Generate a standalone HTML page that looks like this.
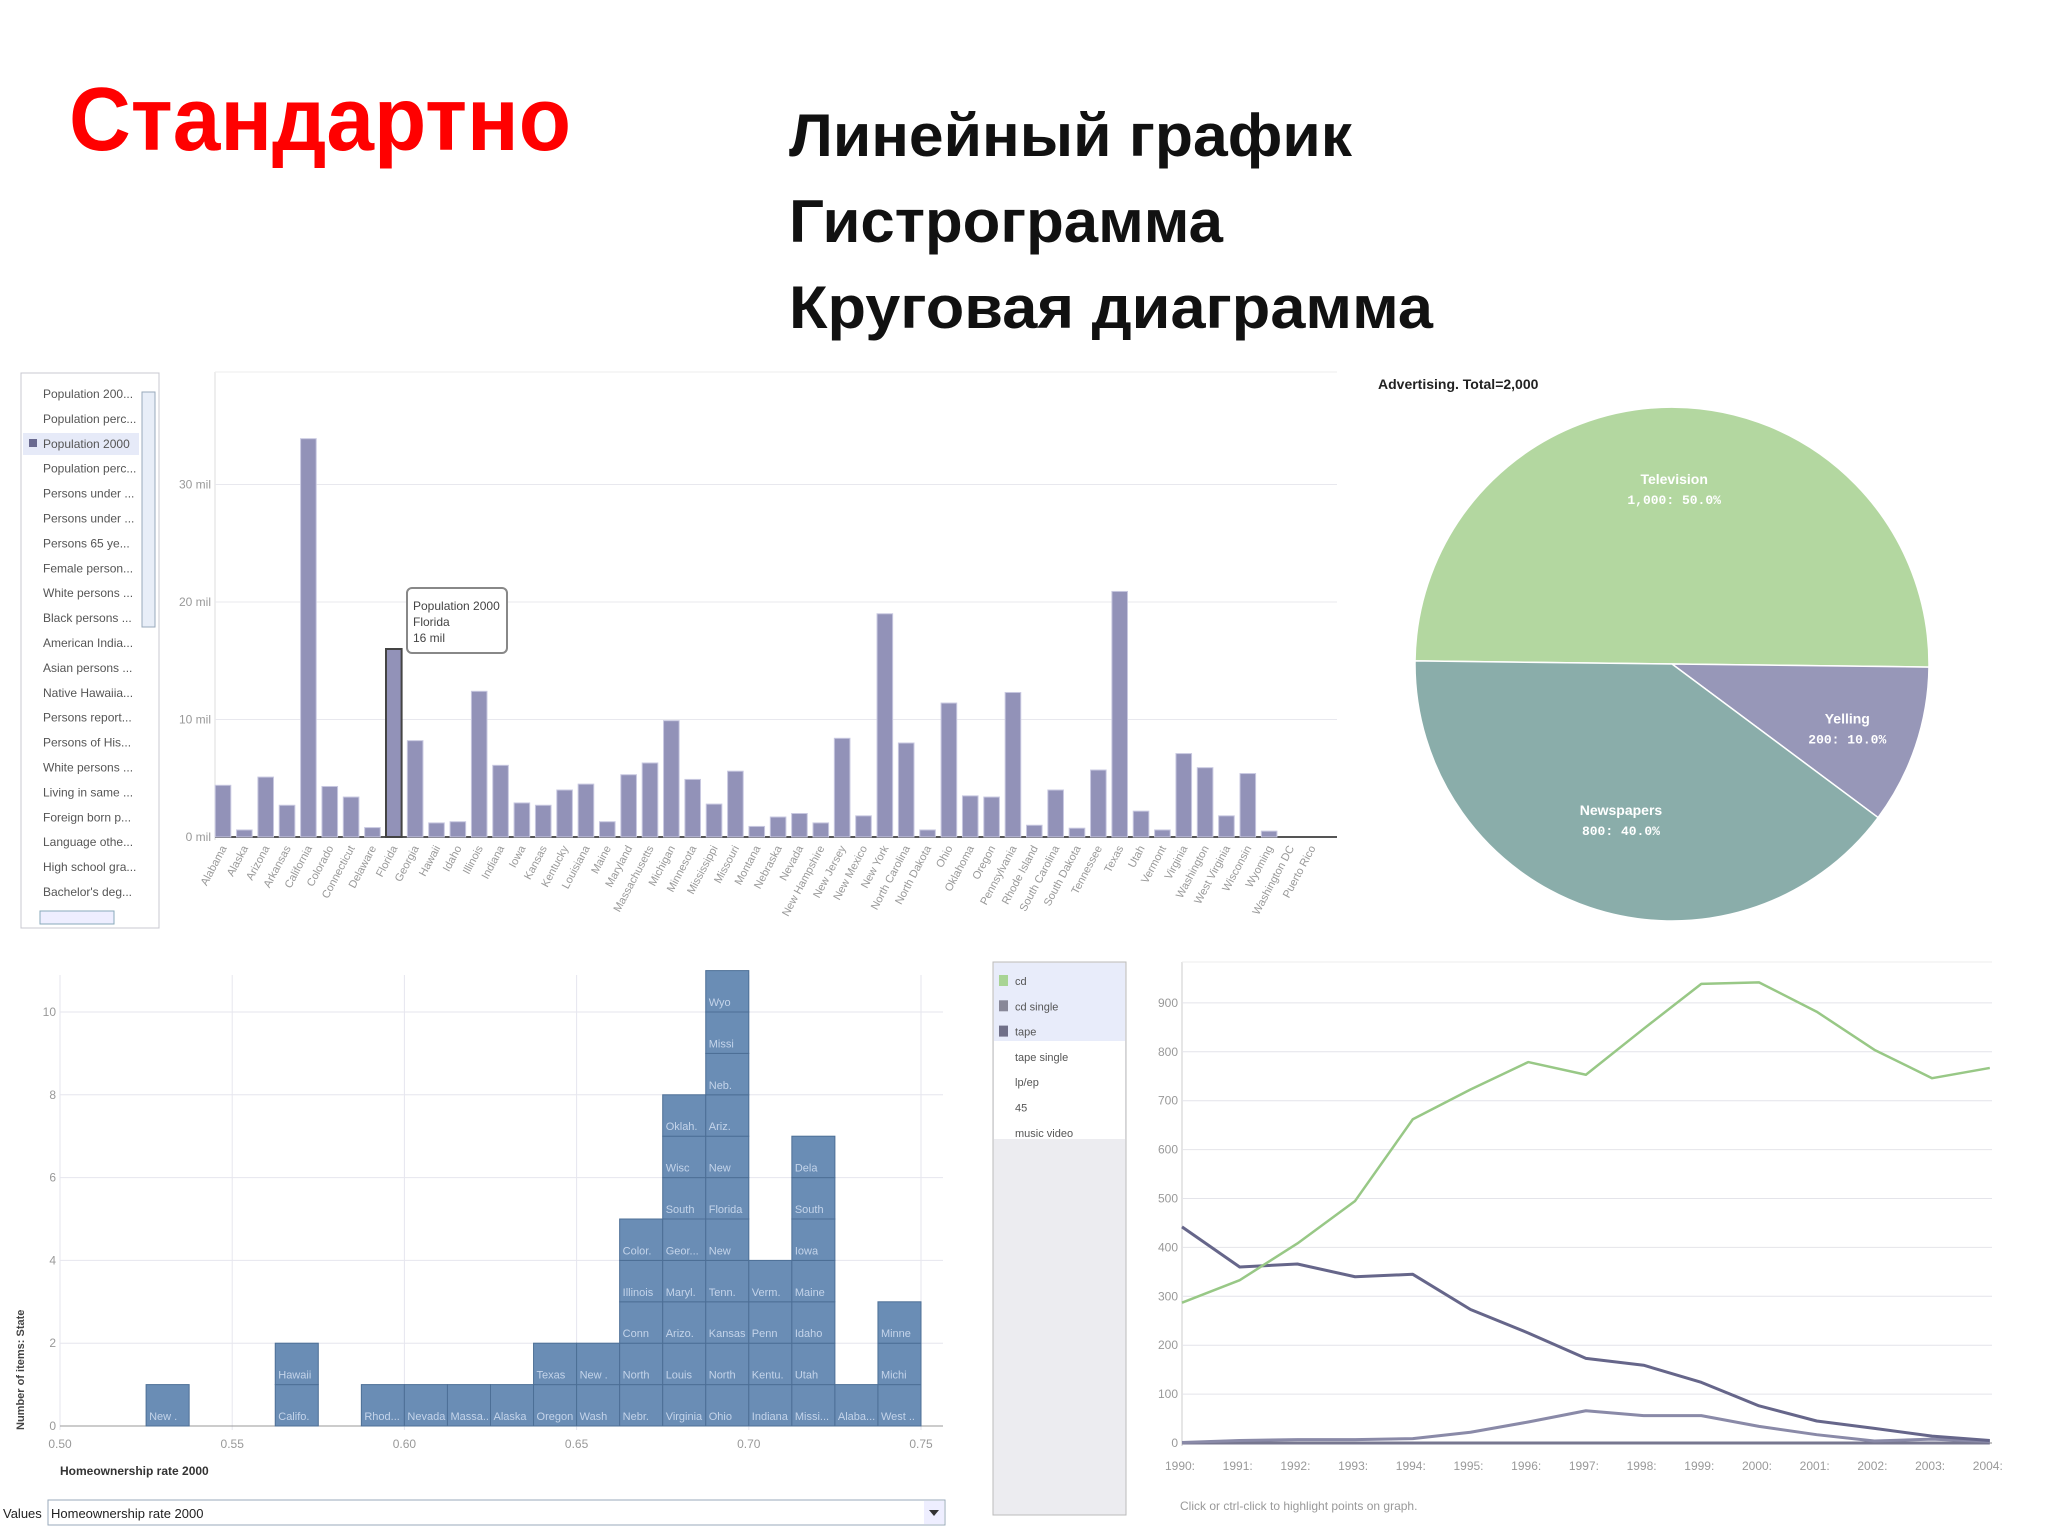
<!DOCTYPE html>
<html><head><meta charset="utf-8"><style>
html,body{margin:0;padding:0;background:#fff;}
svg{display:block;font-family:"Liberation Sans",sans-serif;}
</style></head><body>
<svg id="s" width="2048" height="1536" viewBox="0 0 2048 1536" xmlns="http://www.w3.org/2000/svg">
<text x="69" y="150" font-size="90" font-weight="bold" fill="#ff0000" textLength="502" lengthAdjust="spacingAndGlyphs" font-family="Liberation Sans, DejaVu Sans, sans-serif">Стандартно</text>
<g font-size="60" font-weight="bold" fill="#111" font-family="Liberation Sans, DejaVu Sans, sans-serif">
<text x="789" y="156" textLength="563" lengthAdjust="spacingAndGlyphs">Линейный график</text>
<text x="789" y="242" textLength="434" lengthAdjust="spacingAndGlyphs">Гистрограмма</text>
<text x="789" y="328" textLength="644" lengthAdjust="spacingAndGlyphs">Круговая диаграмма</text>
</g>
<g id="bar"></g>
<g id="pie"></g>
<g id="hist"></g>
<g id="line"></g>
</svg>
<script>
const NS="http://www.w3.org/2000/svg";
function mk(p,t,a,txt){const e=document.createElementNS(NS,t);for(const k in a)e.setAttribute(k,a[k]);if(txt!==undefined)e.textContent=txt;p.appendChild(e);return e;}

/* ---------- BAR CHART ---------- */
const barStates=["Alabama","Alaska","Arizona","Arkansas","California","Colorado","Connecticut","Delaware","Florida","Georgia","Hawaii","Idaho","Illinois","Indiana","Iowa","Kansas","Kentucky","Louisiana","Maine","Maryland","Massachusetts","Michigan","Minnesota","Mississippi","Missouri","Montana","Nebraska","Nevada","New Hampshire","New Jersey","New Mexico","New York","North Carolina","North Dakota","Ohio","Oklahoma","Oregon","Pennsylvania","Rhode Island","South Carolina","South Dakota","Tennessee","Texas","Utah","Vermont","Virginia","Washington","West Virginia","Wisconsin","Wyoming","Washington DC","Puerto Rico"];
const barValues=[4.4,0.6,5.1,2.7,33.9,4.3,3.4,0.8,16,8.2,1.2,1.3,12.4,6.1,2.9,2.7,4.0,4.5,1.3,5.3,6.3,9.9,4.9,2.8,5.6,0.9,1.7,2.0,1.2,8.4,1.8,19.0,8.0,0.6,11.4,3.5,3.4,12.3,1.0,4.0,0.75,5.7,20.9,2.2,0.6,7.1,5.9,1.8,5.4,0.5,0,0];
const barTicks=[0,10,20,30];
const barTickLabels=["0 mil","10 mil","20 mil","30 mil"];
const listItems=["Population 200...","Population perc...","Population 2000","Population perc...","Persons under ...","Persons under ...","Persons 65 ye...","Female person...","White persons ...","Black persons ...","American India...","Asian persons ...","Native Hawaiia...","Persons report...","Persons of His...","White persons ...","Living in same ...","Foreign born p...","Language othe...","High school gra...","Bachelor's deg..."];
(function(){
const g=document.getElementById('bar');
const y=v=>837-v*11.75, xc=i=>223+i*21.35;
const panel=mk(g,'rect',{x:21,y:373,width:138,height:555,fill:'#fff',stroke:'#c8c8d0'});

mk(g,'rect',{x:23,y:433,width:116,height:22,fill:'#e6eaf8'});
listItems.forEach((t,i)=>{const e=mk(g,'text',{x:43,y:398+i*24.9,'font-size':12,fill:'#555'},t);
});
mk(g,'rect',{x:29,y:439,width:8,height:8,fill:'#6a6a90'});
const sb=mk(g,'rect',{x:142,y:392,width:13,height:235,fill:'#e8eef8',stroke:'#9ab'});

mk(g,'rect',{x:40,y:911,width:74,height:13,fill:'#eef',stroke:'#8ab'});
mk(g,'line',{x1:215,y1:372,x2:215,y2:840,stroke:'#ddd'});
mk(g,'line',{x1:215,y1:372,x2:1337,y2:372,stroke:'#eee'});
barTicks.forEach((t,i)=>{mk(g,'line',{x1:215,y1:y(t),x2:1337,y2:y(t),stroke:i?'#e8e8ee':'#555','stroke-width':i?1:2});
const e=mk(g,'text',{x:211,y:y(t)+4,'font-size':12,fill:'#999','text-anchor':'end'},barTickLabels[i]);
});
barValues.forEach((v,i)=>{if(v>0){const r=mk(g,'rect',{x:xc(i)-7.8,y:y(v),width:15.6,height:837-y(v),fill:'#9292b8',stroke:i==8?'#444':'#c8c8e0','stroke-width':i==8?2:1});
}
const l=mk(g,'text',{x:xc(i)+4,y:848,'font-size':11,fill:'#999','text-anchor':'end',transform:`rotate(-62 ${xc(i)+4} 848)`},barStates[i]);
});
const tt=mk(g,'g',{});
mk(tt,'rect',{x:407,y:588,width:100,height:65,rx:5,fill:'#fff',stroke:'#888','stroke-width':2});
["Population 2000","Florida","16 mil"].forEach((t,i)=>mk(tt,'text',{x:413,y:610+i*16,'font-size':12,fill:'#444'},t));
})();

/* ---------- PIE ---------- */
const pieLabels=["Television","Yelling","Newspapers"];
const pieValues=[1000,200,800];
const pieColors=["#b3d7a0","#9797b8","#8aadaa"];
(function(){
const g=document.getElementById('pie');
const t=mk(g,'text',{x:1378,y:389,'font-size':14,'font-weight':'bold',fill:'#222'},"Advertising. Total="+pieValues.reduce((a,b)=>a+b).toLocaleString('en-US'));

const cx=1672,cy=664,r=257,tot=pieValues.reduce((a,b)=>a+b);
let a0=Math.PI+0.012;
const lrs=[0.7,0.72,0.62];
pieValues.forEach((v,i)=>{const a1=a0+v/tot*2*Math.PI;
const p=`M${cx},${cy} L${cx+r*Math.cos(a0)},${cy+r*Math.sin(a0)} A${r},${r} 0 ${v/tot>0.5?1:0} 1 ${cx+r*Math.cos(a1)},${cy+r*Math.sin(a1)} Z`;
const s=mk(g,'path',{d:p,fill:pieColors[i],stroke:'#fff','stroke-width':1.5});

const am=(a0+a1)/2,lr=r*lrs[i];
const lx=cx+lr*Math.cos(am),ly=cy+lr*Math.sin(am);
const l1=mk(g,'text',{x:lx,y:ly,'font-size':14,'font-weight':'bold',fill:'#fff','text-anchor':'middle'},pieLabels[i]);

mk(g,'text',{x:lx,y:ly+20,'font-size':13,'font-weight':'bold',fill:'#fff','text-anchor':'middle','font-family':'Liberation Mono, monospace'},v.toLocaleString('en-US')+":  "+(v/tot*100).toFixed(1)+"%");
a0=a1;});
})();

/* ---------- HISTOGRAM ---------- */
const histBinStart=[0.5,0.5125,0.525,0.5375,0.55,0.5625,0.575,0.5875,0.6,0.6125,0.625,0.6375,0.65,0.6625,0.675,0.6875,0.7,0.7125,0.725,0.7375];
const histCounts=[0,0,1,0,0,2,0,1,1,1,1,2,2,5,8,11,4,7,1,3];
const histCellLabels=[[],[],["New ."],[],[],["Califo.","Hawaii"],[],["Rhod..."],["Nevada"],["Massa..."],["Alaska"],["Oregon","Texas"],["Wash","New ."],["Nebr.","North","Conn","Illinois","Color."],["Virginia","Louis","Arizo.","Maryl.","Geor...","South","Wisc","Oklah."],["Ohio","North","Kansas","Tenn.","New","Florida","New","Ariz.","Neb.","Missi","Wyo"],["Indiana","Kentu.","Penn","Verm."],["Missi...","Utah","Idaho","Maine","Iowa","South","Dela"],["Alaba..."],["West ..","Michi","Minne"]];
const histXTicks=[0.50,0.55,0.60,0.65,0.70,0.75];
const histYTicks=[0,2,4,6,8,10];
(function(){
const g=document.getElementById('hist');
const x=v=>60+(v-0.5)/0.25*861, y=v=>1426-v*41.4;
histXTicks.forEach(t=>{mk(g,'line',{x1:x(t),y1:975,x2:x(t),y2:1430,stroke:'#e6e6ee'});
const e=mk(g,'text',{x:x(t),y:1448,'font-size':12,fill:'#999','text-anchor':'middle'},t.toFixed(2));
});
histYTicks.forEach(t=>{mk(g,'line',{x1:60,y1:y(t),x2:943,y2:y(t),stroke:t?'#e6e6ee':'#999'});
const e=mk(g,'text',{x:56,y:y(t)+4,'font-size':12,fill:'#999','text-anchor':'end'},t);
});
const bw=x(0.5125)-x(0.5);
histCounts.forEach((c,i)=>{for(let k=0;k<c;k++){
const r=mk(g,'rect',{x:x(histBinStart[i]),y:y(k+1),width:bw,height:41.4,fill:'#6a8db5',stroke:'#4d6f96','stroke-width':1});

const lb=histCellLabels[i][k];if(lb)mk(g,'text',{x:x(histBinStart[i])+3,y:y(k)-6,'font-size':11,fill:'#c4d4ea'},lb);}});
const yl=mk(g,'text',{x:24,y:1430,'font-size':11,'font-weight':'bold',fill:'#444',transform:'rotate(-90 24 1430)'},"Number of items: State");

const xl=mk(g,'text',{x:60,y:1475,'font-size':12,'font-weight':'bold',fill:'#333'},"Homeownership rate 2000");

mk(g,'text',{x:3,y:1518,'font-size':13,fill:'#222'},"Values");
const dd=mk(g,'g',{});
mk(dd,'rect',{x:48,y:1500,width:897,height:25,fill:'#fff',stroke:'#9ab'});
mk(dd,'text',{x:51,y:1518,'font-size':13,fill:'#222'},"Homeownership rate 2000");
mk(dd,'rect',{x:924,y:1501,width:20,height:23,fill:'#eef'});
mk(dd,'path',{d:'M929,1510 L939,1510 L934,1516 Z',fill:'#333'});
})();

/* ---------- LINE CHART ---------- */
const years=[1990,1991,1992,1993,1994,1995,1996,1997,1998,1999,2000,2001,2002,2003,2004];
const cdValues=[287,333,408,495,662,723,779,753,847,939,942,882,804,746,767];
const tapeValues=[442,360,366,340,345,273,225,173,159,124,76,45,30,14,5];
const cdSingleValues=[1,5,7,7,9,22,43,66,56,56,34,17,4,8,3];
const otherValues=[0,0,0,0,0,0,0,0,0,0,0,0,0,0,0];
const lineYTicks=[0,100,200,300,400,500,600,700,800,900];
const legendItems=["cd","cd single","tape","tape single","lp/ep","45","music video"];
(function(){
const g=document.getElementById('line');
const x=i=>1182+i*57.7, y=v=>1443-v*0.489;
const lg=mk(g,'g',{});
mk(lg,'rect',{x:993,y:962,width:133,height:553,fill:'#ececf0',stroke:'#bbb'});
mk(lg,'rect',{x:994,y:963,width:131,height:176,fill:'#fff'});
mk(lg,'rect',{x:994,y:963,width:131,height:78,fill:'#e8ecfa'});
const sw=['#a8d494','#888898','#707088'];
legendItems.forEach((t,i)=>{const yy=985+i*25.3;
if(i<3)mk(lg,'rect',{x:999,y:yy-10,width:9,height:11,fill:sw[i]});
const e=mk(lg,'text',{x:1015,y:yy,'font-size':11,fill:'#555'},t);
});
mk(g,'line',{x1:1182,y1:962,x2:1182,y2:1446,stroke:'#ccc'});
mk(g,'line',{x1:1182,y1:962,x2:1992,y2:962,stroke:'#eee'});
lineYTicks.forEach(t=>{mk(g,'line',{x1:1182,y1:y(t),x2:1992,y2:y(t),stroke:t?'#e4e4ea':'#888'});
const e=mk(g,'text',{x:1178,y:y(t)+4,'font-size':12,fill:'#999','text-anchor':'end'},t);
});
years.forEach((yr,i)=>{const e=mk(g,'text',{x:x(i)-2,y:1470,'font-size':12,fill:'#999','text-anchor':'middle'},yr+":");
});
const path=(arr,c,w,n)=>{const p=mk(g,'polyline',{points:arr.map((v,i)=>x(i)+','+y(v)).join(' '),fill:'none',stroke:c,'stroke-width':w,'stroke-linejoin':'round'});
};
path(otherValues,'#777790',3,'line-other');
path(cdSingleValues,'#8a8aa8',3,'line-cd-single');
path(tapeValues,'#66668a',3,'line-tape');
path(cdValues,'#98c886',2.5,'line-cd');
const f=mk(g,'text',{x:1180,y:1510,'font-size':12,fill:'#999'},"Click or ctrl-click to highlight points on graph.");

})();
</script>
</body></html>
